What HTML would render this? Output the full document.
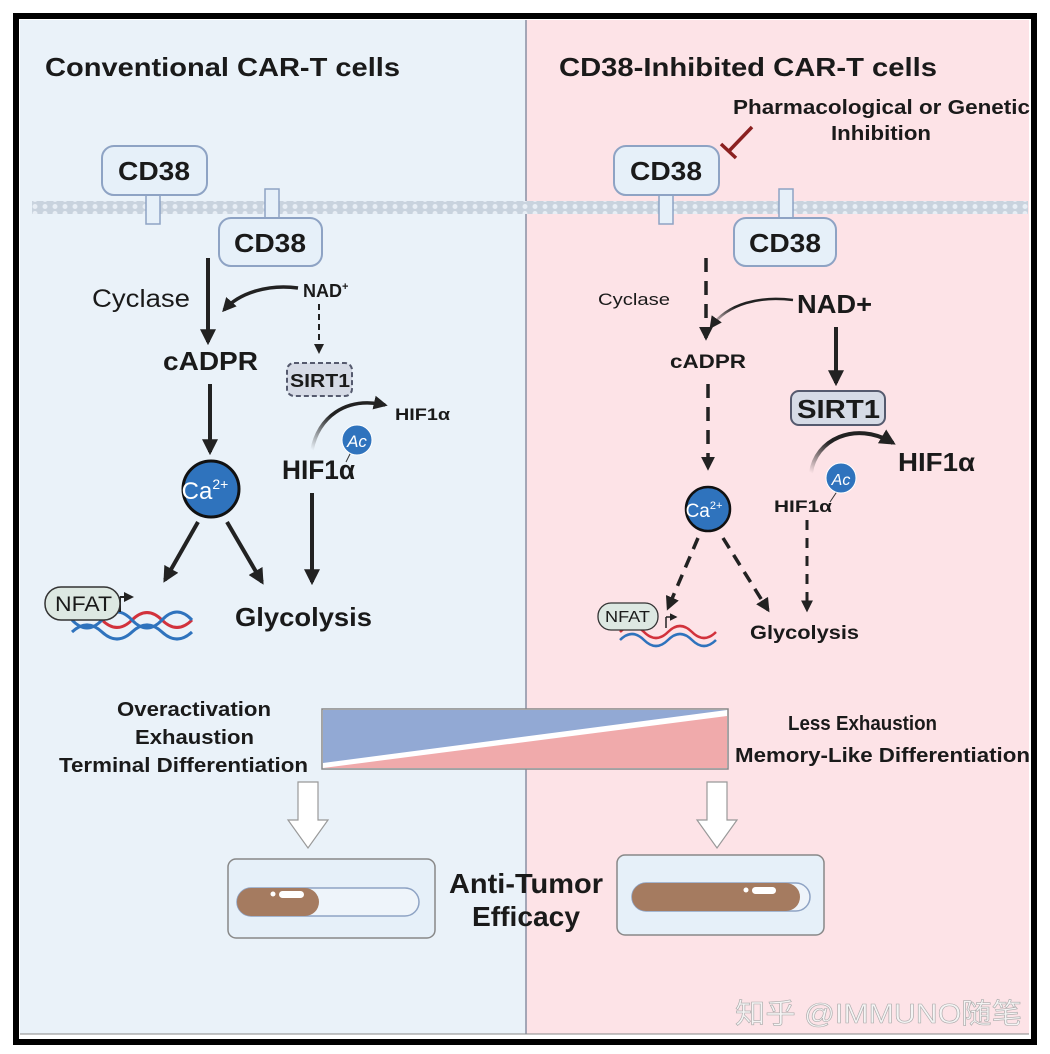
<!DOCTYPE html>
<html><head><meta charset="utf-8"><style>
html,body{margin:0;padding:0;background:#fff;}
svg{display:block;}
text{font-family:"Liberation Sans",Arial,sans-serif;fill:#1a1a1a;}
.b{font-weight:bold;}
</style></head><body>
<svg width="1050" height="1054" viewBox="0 0 1050 1054" xmlns="http://www.w3.org/2000/svg">
<defs>
<marker id="ah" viewBox="0 0 10 10" refX="8" refY="5" markerWidth="4" markerHeight="4" orient="auto"><path d="M0,0L10,5L0,10z" fill="#222"/></marker>
<marker id="ahs" viewBox="0 0 10 10" refX="8" refY="5" markerWidth="5" markerHeight="5" orient="auto"><path d="M0,0L10,5L0,10z" fill="#222"/></marker>
<pattern id="mem" width="10" height="14" patternUnits="userSpaceOnUse"><rect width="10" height="14" fill="#c9d3de"/><circle cx="5" cy="3.5" r="2.5" fill="#e8eef5"/><circle cx="5" cy="10.5" r="2.5" fill="#e8eef5"/></pattern>
<linearGradient id="fade" x1="0" y1="1" x2="1" y2="0"><stop offset="0" stop-color="#222" stop-opacity="0"/><stop offset="0.5" stop-color="#222"/></linearGradient>
</defs>
<rect x="0" y="0" width="1050" height="1054" fill="#fff"/>
<rect x="16" y="16" width="1018" height="1026" fill="none" stroke="#000" stroke-width="6"/>
<rect x="20" y="20" width="506" height="1014" fill="#eaf2f9"/>
<rect x="526" y="20" width="503" height="1014" fill="#fde3e7"/>
<line x1="526" y1="20" x2="526" y2="1034" stroke="#8a8fa3" stroke-width="1.5"/>
<line x1="20" y1="1034" x2="1029" y2="1034" stroke="#888" stroke-width="1"/>

<g lengthAdjust="spacingAndGlyphs">
<text x="45" y="76" class="b" font-size="26" textLength="355" lengthAdjust="spacingAndGlyphs">Conventional CAR-T cells</text>
<text x="559" y="76" class="b" font-size="26" textLength="378" lengthAdjust="spacingAndGlyphs">CD38-Inhibited CAR-T cells</text>
</g>

<rect x="32" y="201" width="996" height="13" fill="url(#mem)"/>

<rect x="146" y="192" width="14" height="32" fill="#e6f0f9" stroke="#8ea3c4" stroke-width="1.5"/>
<rect x="102" y="146" width="105" height="49" rx="12" fill="#e6f0f9" stroke="#8ea3c4" stroke-width="2"/>
<text x="118" y="180" class="b" font-size="26" textLength="72" lengthAdjust="spacingAndGlyphs">CD38</text>
<rect x="265" y="189" width="14" height="32" fill="#e6f0f9" stroke="#8ea3c4" stroke-width="1.5"/>
<rect x="219" y="218" width="103" height="48" rx="12" fill="#e6f0f9" stroke="#8ea3c4" stroke-width="2"/>
<text x="234" y="252" class="b" font-size="26" textLength="72" lengthAdjust="spacingAndGlyphs">CD38</text>

<rect x="659" y="192" width="14" height="32" fill="#e6f0f9" stroke="#8ea3c4" stroke-width="1.5"/>
<rect x="614" y="146" width="105" height="49" rx="12" fill="#e6f0f9" stroke="#8ea3c4" stroke-width="2"/>
<text x="630" y="180" class="b" font-size="26" textLength="72" lengthAdjust="spacingAndGlyphs">CD38</text>
<rect x="779" y="189" width="14" height="32" fill="#e6f0f9" stroke="#8ea3c4" stroke-width="1.5"/>
<rect x="734" y="218" width="102" height="48" rx="12" fill="#e6f0f9" stroke="#8ea3c4" stroke-width="2"/>
<text x="749" y="252" class="b" font-size="26" textLength="72" lengthAdjust="spacingAndGlyphs">CD38</text>

<line x1="752" y1="127" x2="729" y2="151" stroke="#8b2020" stroke-width="3.5"/>
<line x1="721" y1="144" x2="736" y2="158" stroke="#8b2020" stroke-width="3.5"/>
<text x="733" y="114" class="b" font-size="20" textLength="297" lengthAdjust="spacingAndGlyphs">Pharmacological or Genetic</text>
<text x="831" y="140" class="b" font-size="20" textLength="100" lengthAdjust="spacingAndGlyphs">Inhibition</text>

<!-- LEFT pathway -->
<line x1="208" y1="258" x2="208" y2="342" stroke="#222" stroke-width="4" marker-end="url(#ah)"/>
<text x="92" y="307" font-size="25" textLength="98" lengthAdjust="spacingAndGlyphs">Cyclase</text>
<path d="M298,288 C270,284 240,292 224,310" fill="none" stroke="#222" stroke-width="3.5" marker-end="url(#ah)"/>
<text x="303" y="297" class="b" font-size="18">NAD<tspan font-size="11" dy="-7">+</tspan></text>
<line x1="319" y1="304" x2="319" y2="352" stroke="#222" stroke-width="2" stroke-dasharray="6,4" marker-end="url(#ahs)"/>
<text x="163" y="370" class="b" font-size="26" textLength="95" lengthAdjust="spacingAndGlyphs">cADPR</text>
<line x1="210" y1="384" x2="210" y2="452" stroke="#222" stroke-width="4" marker-end="url(#ah)"/>
<rect x="287" y="363" width="65" height="33" rx="7" fill="#d6dbe6" stroke="#555a6e" stroke-width="2" stroke-dasharray="5,3"/>
<text x="290" y="387" class="b" font-size="18" textLength="60" lengthAdjust="spacingAndGlyphs">SIRT1</text>
<path d="M312,450 C318,418 345,396 385,405" fill="none" stroke="url(#fade)" stroke-width="3.5" marker-end="url(#ah)"/>
<text x="395" y="420" class="b" font-size="17" textLength="55" lengthAdjust="spacingAndGlyphs">HIF1α</text>
<line x1="352" y1="450" x2="346" y2="462" stroke="#333" stroke-width="1"/>
<circle cx="357" cy="440" r="15" fill="#2f73bd" stroke="#fff" stroke-width="1"/>
<text x="357" y="447" font-size="17" style="fill:#fff;font-style:italic" text-anchor="middle">Ac</text>
<text x="282" y="479" class="b" font-size="27" textLength="73" lengthAdjust="spacingAndGlyphs">HIF1α</text>
<line x1="312" y1="493" x2="312" y2="582" stroke="#222" stroke-width="4" marker-end="url(#ah)"/>
<circle cx="211" cy="489" r="28" fill="#2f73bd" stroke="#111" stroke-width="3"/>
<text x="205" y="499" font-size="24" style="fill:#fff" text-anchor="middle">Ca<tspan font-size="14" dy="-10">2+</tspan></text>
<line x1="198" y1="522" x2="165" y2="580" stroke="#222" stroke-width="4" marker-end="url(#ah)"/>
<line x1="227" y1="522" x2="262" y2="582" stroke="#222" stroke-width="4" marker-end="url(#ah)"/>
<text x="235" y="626" class="b" font-size="26" textLength="137" lengthAdjust="spacingAndGlyphs">Glycolysis</text>
<path d="M72,620 Q87,605 102,620 T132,620 T162,620 T192,620" fill="none" stroke="#d2323c" stroke-width="3"/>
<path d="M72,632 Q87,618 102,632 T132,632 T162,632 T192,632" fill="none" stroke="#2f73bd" stroke-width="3"/>
<path d="M72,620 Q87,636 102,620 T132,620 T162,620 T192,620" fill="none" stroke="#2f73bd" stroke-width="3"/>
<line x1="120" y1="612" x2="120" y2="597" stroke="#222" stroke-width="2"/>
<line x1="120" y1="597" x2="132" y2="597" stroke="#222" stroke-width="2" marker-end="url(#ahs)"/>
<rect x="45" y="587" width="75" height="33" rx="16" fill="#dde8e2" stroke="#333" stroke-width="1.5"/>
<text x="55" y="611" font-size="21" textLength="57" lengthAdjust="spacingAndGlyphs">NFAT</text>

<!-- RIGHT pathway -->
<line x1="706" y1="258" x2="706" y2="338" stroke="#222" stroke-width="3.5" stroke-dasharray="14,9" marker-end="url(#ah)"/>
<text x="598" y="305" font-size="17" textLength="72" lengthAdjust="spacingAndGlyphs">Cyclase</text>
<path d="M793,300 C760,296 728,303 711,327" fill="none" stroke="url(#fade)" stroke-width="2.5" marker-end="url(#ahs)"/>
<text x="797" y="313" class="b" font-size="26" textLength="75" lengthAdjust="spacingAndGlyphs">NAD+</text>
<line x1="836" y1="327" x2="836" y2="383" stroke="#222" stroke-width="4" marker-end="url(#ah)"/>
<text x="670" y="368" class="b" font-size="19" textLength="76" lengthAdjust="spacingAndGlyphs">cADPR</text>
<line x1="708" y1="384" x2="708" y2="468" stroke="#222" stroke-width="3.5" stroke-dasharray="14,9" marker-end="url(#ah)"/>
<rect x="791" y="391" width="94" height="34" rx="8" fill="#d6dbe6" stroke="#555a6e" stroke-width="2"/>
<text x="797" y="418" class="b" font-size="26" textLength="83" lengthAdjust="spacingAndGlyphs">SIRT1</text>
<path d="M811,473 C815,440 855,420 893,443" fill="none" stroke="url(#fade)" stroke-width="4" marker-end="url(#ah)"/>
<text x="898" y="471" class="b" font-size="26" textLength="77" lengthAdjust="spacingAndGlyphs">HIF1α</text>
<line x1="838" y1="490" x2="830" y2="502" stroke="#333" stroke-width="1"/>
<circle cx="841" cy="478" r="15" fill="#2f73bd" stroke="#fff" stroke-width="1"/>
<text x="841" y="485" font-size="16" style="fill:#fff;font-style:italic" text-anchor="middle">Ac</text>
<text x="774" y="512" class="b" font-size="17" textLength="58" lengthAdjust="spacingAndGlyphs">HIF1α</text>
<line x1="807" y1="520" x2="807" y2="610" stroke="#222" stroke-width="3" stroke-dasharray="10,8" marker-end="url(#ah)"/>
<circle cx="708" cy="509" r="22" fill="#2f73bd" stroke="#111" stroke-width="2.5"/>
<text x="704" y="517" font-size="19" style="fill:#fff" text-anchor="middle">Ca<tspan font-size="11" dy="-8">2+</tspan></text>
<line x1="698" y1="538" x2="668" y2="608" stroke="#222" stroke-width="3.5" stroke-dasharray="12,8" marker-end="url(#ah)"/>
<line x1="723" y1="538" x2="768" y2="610" stroke="#222" stroke-width="3.5" stroke-dasharray="12,8" marker-end="url(#ah)"/>
<text x="750" y="639" class="b" font-size="19" textLength="109" lengthAdjust="spacingAndGlyphs">Glycolysis</text>
<path d="M620,632 Q632,620 644,632 T668,632 T692,632 T716,632" fill="none" stroke="#d2323c" stroke-width="2.5"/>
<path d="M620,640 Q632,628 644,640 T668,640 T692,640 T716,640" fill="none" stroke="#2f73bd" stroke-width="2.5"/>
<line x1="666" y1="628" x2="666" y2="617" stroke="#222" stroke-width="1.5"/>
<line x1="666" y1="617" x2="676" y2="617" stroke="#222" stroke-width="1.5" marker-end="url(#ahs)"/>
<rect x="598" y="603" width="60" height="27" rx="13" fill="#dde8e2" stroke="#333" stroke-width="1.3"/>
<text x="605" y="622" font-size="16" textLength="45" lengthAdjust="spacingAndGlyphs">NFAT</text>

<!-- wedge -->
<rect x="322" y="709" width="406" height="60" fill="#fff" stroke="#888" stroke-width="1.5"/>
<polygon points="323,710 727,710 323,763" fill="#92a9d4"/>
<polygon points="323,768 727,768 727,716" fill="#f0aaab"/>
<text x="117" y="716" class="b" font-size="20" textLength="154" lengthAdjust="spacingAndGlyphs">Overactivation</text>
<text x="135" y="744" class="b" font-size="20" textLength="119" lengthAdjust="spacingAndGlyphs">Exhaustion</text>
<text x="59" y="772" class="b" font-size="20" textLength="249" lengthAdjust="spacingAndGlyphs">Terminal Differentiation</text>
<text x="788" y="730" class="b" font-size="20" textLength="149" lengthAdjust="spacingAndGlyphs">Less Exhaustion</text>
<text x="735" y="762" class="b" font-size="20" textLength="295" lengthAdjust="spacingAndGlyphs">Memory-Like Differentiation</text>

<polygon points="298,782 318,782 318,820 328,820 308,848 288,820 298,820" fill="#fff" stroke="#999" stroke-width="1.2"/>
<polygon points="707,782 727,782 727,820 737,820 717,848 697,820 707,820" fill="#fff" stroke="#999" stroke-width="1.2"/>

<rect x="228" y="859" width="207" height="79" rx="8" fill="#e6f0f9" stroke="#888" stroke-width="1.5"/>
<rect x="237" y="888" width="182" height="28" rx="14" fill="#eef4fa" stroke="#8ea3c4" stroke-width="1.5"/>
<rect x="237" y="888" width="82" height="28" rx="14" fill="#a57b60"/>
<rect x="279" y="891" width="25" height="7" rx="3.5" fill="#fff"/>
<circle cx="273" cy="894" r="2.5" fill="#fff"/>
<rect x="617" y="855" width="207" height="80" rx="8" fill="#e6f0f9" stroke="#888" stroke-width="1.5"/>
<rect x="632" y="883" width="178" height="28" rx="14" fill="#eef4fa" stroke="#8ea3c4" stroke-width="1.5"/>
<rect x="632" y="883" width="168" height="28" rx="14" fill="#a57b60"/>
<rect x="752" y="887" width="24" height="7" rx="3.5" fill="#fff"/>
<circle cx="746" cy="890" r="2.5" fill="#fff"/>
<text x="449" y="893" class="b" font-size="28" textLength="154" lengthAdjust="spacingAndGlyphs">Anti-Tumor</text>
<text x="472" y="926" class="b" font-size="28" textLength="108" lengthAdjust="spacingAndGlyphs">Efficacy</text>

<text x="735" y="1023" font-size="28" textLength="287" lengthAdjust="spacingAndGlyphs" style="fill:#f4f4f4;stroke:#aaa;stroke-width:0.6;font-family:'Liberation Sans','Noto Sans CJK SC',sans-serif">知乎 @IMMUNO随笔</text>
</svg>
</body></html>
